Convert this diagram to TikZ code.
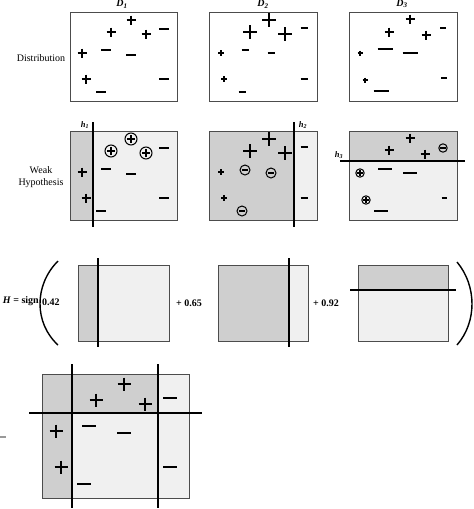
\documentclass[tikz,border=0pt]{standalone}
\usepackage{fontspec}
\setmainfont{Liberation Serif}
\begin{document}
\begin{tikzpicture}[x=1pt,y=-1pt,
 sg/.style={line width=1.7pt},
 tsg/.style={line width=1.2pt},
 box/.style={draw=black!70, line width=0.9pt},
 dk/.style={fill=black!19},
 lt/.style={fill=black!6},
 hyp/.style={line width=1.5pt},
 lab/.style={font=\fontsize{10}{11.5}\selectfont, align=center, inner sep=0pt},
 hl/.style={font=\bfseries\itshape\fontsize{8.5}{9}\selectfont, inner sep=0pt},
 coef/.style={font=\bfseries\fontsize{10}{11}\selectfont, inner sep=0pt},
 pics/pl/.style={code={\draw[sg] (-#1,0)--(#1,0) (0,-#1)--(0,#1);}},
 pics/mi/.style={code={\draw[sg] (-#1,0)--(#1,0);}},
 pics/tpl/.style={code={\draw[tsg] (-#1,0)--(#1,0) (0,-#1)--(0,#1);}},
 pics/tmi/.style={code={\draw[tsg] (-#1,0)--(#1,0);}},
 pics/cpl/.style={code={\draw[line width=1pt] (0,0) circle[radius=#1pt];
   \draw[line width=1.2pt] (-0.6*#1,0)--(0.6*#1,0) (0,-0.6*#1)--(0,0.6*#1);}},
 pics/cmi/.style={code={\draw[line width=1pt] (0,0) circle[radius=#1pt];
   \draw[line width=1.2pt] (-0.6*#1,0)--(0.6*#1,0);}}
]
\useasboundingbox[fill=white] (0,0) rectangle (474,509);

% ---------- Row 1: distributions ----------
\node[lab] (dist) at (41,58) {Distribution};
\node[hl, font=\bfseries\itshape\fontsize{10}{11}\selectfont] (d1) at (122,4) {D\textsubscript{1}};
\node[hl, font=\bfseries\itshape\fontsize{10}{11}\selectfont] (d2) at (263,4) {D\textsubscript{2}};
\node[hl, font=\bfseries\itshape\fontsize{10}{11}\selectfont] (d3) at (402,4) {D\textsubscript{3}};

\draw[box] (70,12) rectangle (177,101);
\pic at (131,20) {pl=4.5}; \pic at (111,32) {pl=4.5}; \pic at (146,34) {pl=4.5};
\pic at (82,53) {pl=4.5}; \pic at (86,79) {pl=4.5};
\pic at (164,29) {mi=5}; \pic at (106,50) {mi=5}; \pic at (131,55) {mi=5};
\pic at (101,92) {mi=5}; \pic at (164,79) {mi=5};

\draw[box] (209,12) rectangle (317,101);
\pic at (269,20) {pl=7}; \pic at (250,32) {pl=7}; \pic at (285,34) {pl=7};
\pic at (221,53) {pl=3}; \pic at (224,79) {pl=3};
\pic at (304,28) {mi=3.5}; \pic at (245,50) {mi=3.5}; \pic at (271,53) {mi=3.5};
\pic at (242,92) {mi=3.5}; \pic at (304,79) {mi=3.5};

\draw[box] (349,12) rectangle (457,101);
\pic at (410,19) {pl=4.5}; \pic at (389,32) {pl=4.5}; \pic at (426,35) {pl=4.5};
\pic at (360,53) {pl=2.5}; \pic at (365,80) {pl=2.5};
\pic at (443,28) {mi=3}; \pic at (385,49) {mi=7.5}; \pic at (410,53) {mi=7.5};
\pic at (381,91) {mi=7.5}; \pic at (444,78) {mi=3};

% ---------- Row 2: weak hypotheses ----------
\node[lab] (weak) at (41,177) {Weak\\Hypothesis};

\fill[lt] (70,131) rectangle (177,220);
\fill[dk] (70,131) rectangle (93,220);
\draw[box] (70,131) rectangle (177,220);
\draw[hyp] (93,122) -- (93,227);
\node[hl] (h1) at (85,125) {h\textsubscript{1}};
\pic at (131,139) {cpl=6}; \pic at (111,151) {cpl=6}; \pic at (146,153) {cpl=6};
\pic at (82,172) {pl=4.5}; \pic at (86,198) {pl=4.5};
\pic at (164,148) {mi=5}; \pic at (106,169) {mi=5}; \pic at (131,174) {mi=5};
\pic at (101,211) {mi=5}; \pic at (164,198) {mi=5};

\fill[lt] (209,131) rectangle (317,220);
\fill[dk] (209,131) rectangle (294,220);
\draw[box] (209,131) rectangle (317,220);
\draw[hyp] (294,122) -- (294,227);
\node[hl] (h2) at (303,125) {h\textsubscript{2}};
\pic at (269,139) {pl=7}; \pic at (250,151) {pl=7}; \pic at (285,153) {pl=7};
\pic at (221,172) {pl=3}; \pic at (224,198) {pl=3};
\pic at (245,170) {cmi=5}; \pic at (271,173) {cmi=5}; \pic at (242,211) {cmi=5};
\pic at (304,147) {mi=3.5}; \pic at (304,198) {mi=3.5};

\fill[lt] (349,131) rectangle (457,220);
\fill[dk] (349,131) rectangle (457,161);
\draw[box] (349,131) rectangle (457,220);
\draw[hyp] (340,161) -- (465,161);
\node[hl] (h3) at (339,155) {h\textsubscript{3}};
\pic at (410,138) {pl=4.5}; \pic at (389,150) {pl=4.5}; \pic at (425,154) {pl=4.5};
\pic at (443,148) {cmi=4.2};
\pic at (360,173) {cpl=4.2}; \pic at (366,200) {cpl=4.2};
\pic at (385,169) {mi=7}; \pic at (410,173) {mi=7}; \pic at (381,211) {mi=7};
\pic at (444,198) {mi=2.5};

% ---------- Row 3: combination ----------
\node[coef, anchor=east] (hs) at (39,301) {\textit{H} = sign};
\node[coef, anchor=west] (c1) at (42,302) {0.42};
\draw[line width=1.4pt] (58,261) .. controls (34,285) and (34,323) .. (58,345);

\fill[lt] (78,265) rectangle (169,341);
\fill[dk] (78,265) rectangle (98,341);
\draw[box] (78,265) rectangle (169,341);
\draw[hyp] (98,258) -- (98,347);

\node[coef, anchor=west] (c2) at (176,303) {+ 0.65};

\fill[lt] (218,265) rectangle (308,341);
\fill[dk] (218,265) rectangle (289,341);
\draw[box] (218,265) rectangle (308,341);
\draw[hyp] (289,258) -- (289,347);

\node[coef, anchor=west] (c3) at (313,303) {+ 0.92};

\fill[lt] (358,265) rectangle (448,341);
\fill[dk] (358,265) rectangle (448,290);
\draw[box] (358,265) rectangle (448,341);
\draw[hyp] (350,290) -- (456,290);

\draw[line width=1.4pt] (457,262) .. controls (477,286) and (477,322) .. (457,345);

% ---------- Row 4: final classifier ----------
\draw[line width=2pt, black!40] (0,437) -- (6,437);
\fill[lt] (42,374) rectangle (189,498);
\fill[dk] (42,374) rectangle (158,413);
\fill[dk] (42,413) rectangle (72,498);
\draw[box] (42,374) rectangle (189,498);
\draw[hyp] (72,364) -- (72,508);
\draw[hyp] (158,364) -- (158,508);
\draw[hyp] (29,413) -- (202,413);
\pic at (124,384) {tpl=6.5}; \pic at (96,400) {tpl=6.5}; \pic at (145,404) {tpl=6.5};
\pic at (56,431) {tpl=6.5}; \pic at (61,467) {tpl=6.5};
\pic at (170,398) {tmi=7}; \pic at (89,426) {tmi=7}; \pic at (124,433) {tmi=7};
\pic at (84,484) {tmi=7}; \pic at (170,467) {tmi=7};
\end{tikzpicture}
\end{document}
